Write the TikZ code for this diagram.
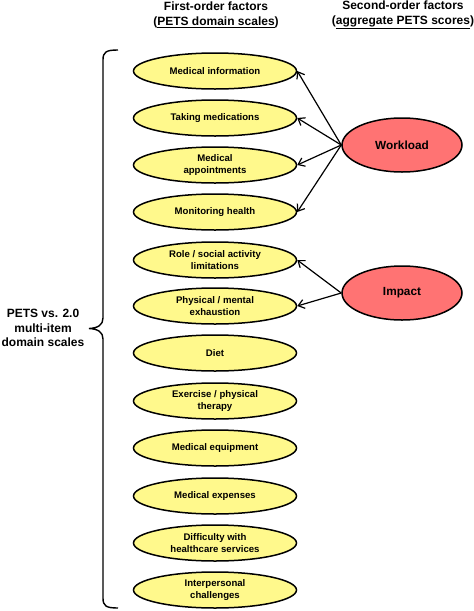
\documentclass[tikz,border=0pt]{standalone}
\usepackage{fontspec}
\setmainfont{Liberation Sans}
\usetikzlibrary{arrows.meta,shapes.geometric}

\begin{document}
\begin{tikzpicture}[x=1pt,y=-1pt]
            \tikzset{scalebox/.style = {shape=ellipse,draw,line width=1.5pt,fill=yellow!45,minimum width=163pt,minimum height=36pt,inner sep=0pt,align=center,font=\bfseries\fontsize{9.6}{11.5}\selectfont}}
            \tikzset{factor/.style = {shape=ellipse,draw,line width=1.5pt,fill=red!55!white,minimum width=120pt,minimum height=54pt,font=\bfseries\fontsize{11.8}{14}\selectfont}}
            \tikzset{edge/.style = {-{Straight Barb[length=6pt,width=9pt]},line width=1.2pt}}
            \tikzset{header/.style = {align=center,font=\bfseries\fontsize{12}{14.5}\selectfont}}
            \useasboundingbox (0,0) rectangle (474,611);

            % column headers
            \node[header] (h1) at (216,15) {First-order factors\\(\underline{PETS domain scales})};
            \node[header] (h2) at (403,15) {Second-order factors\\(\underline{aggregate PETS scores})};

            % first-order factors
            \node[scalebox] (info)  at (215,71)  {Medical information};
            \node[scalebox] (meds)  at (215,118) {Taking medications};
            \node[scalebox] (appt)  at (215,165) {Medical\\appointments};
            \node[scalebox] (mon)   at (215,212) {Monitoring health};
            \node[scalebox] (role)  at (215,260) {Role / social activity\\limitations};
            \node[scalebox] (exh)   at (215,306) {Physical / mental\\exhaustion};
            \node[scalebox] (diet)  at (215,353) {Diet};
            \node[scalebox] (exer)  at (215,401) {Exercise / physical\\therapy};
            \node[scalebox] (equip) at (215,448) {Medical equipment};
            \node[scalebox] (exp)   at (215,496) {Medical expenses};
            \node[scalebox] (diff)  at (215,543) {Difficulty with\\healthcare services};
            \node[scalebox] (inter) at (215,590) {Interpersonal\\challenges};

            % second-order factors
            \node[factor] (work) at (402,145) {Workload};
            \node[factor] (imp)  at (402,293) {Impact};

            \draw[edge] (work.west) to (info.east);
            \draw[edge] (work.west) to (meds.east);
            \draw[edge] (work.west) to (appt.east);
            \draw[edge] (work.west) to (mon.east);
            \draw[edge] (imp.west) to (role.east);
            \draw[edge] (imp.west) to (exh.east);

            % bracket round all scales
            \draw[line width=1.4pt] (118,50) .. controls (106,50) and (103,52) .. (103,60) -- (103,318)
                .. controls (103,325) and (98,328) .. (89,328.5)
                .. controls (98,329) and (103,332) .. (103,339) -- (103,598)
                .. controls (103,606) and (106,608) .. (118,608);
            \node[header] (scales) at (43,328) {PETS vs. 2.0\\multi-item\\domain scales};
        \end{tikzpicture}
\end{document}
